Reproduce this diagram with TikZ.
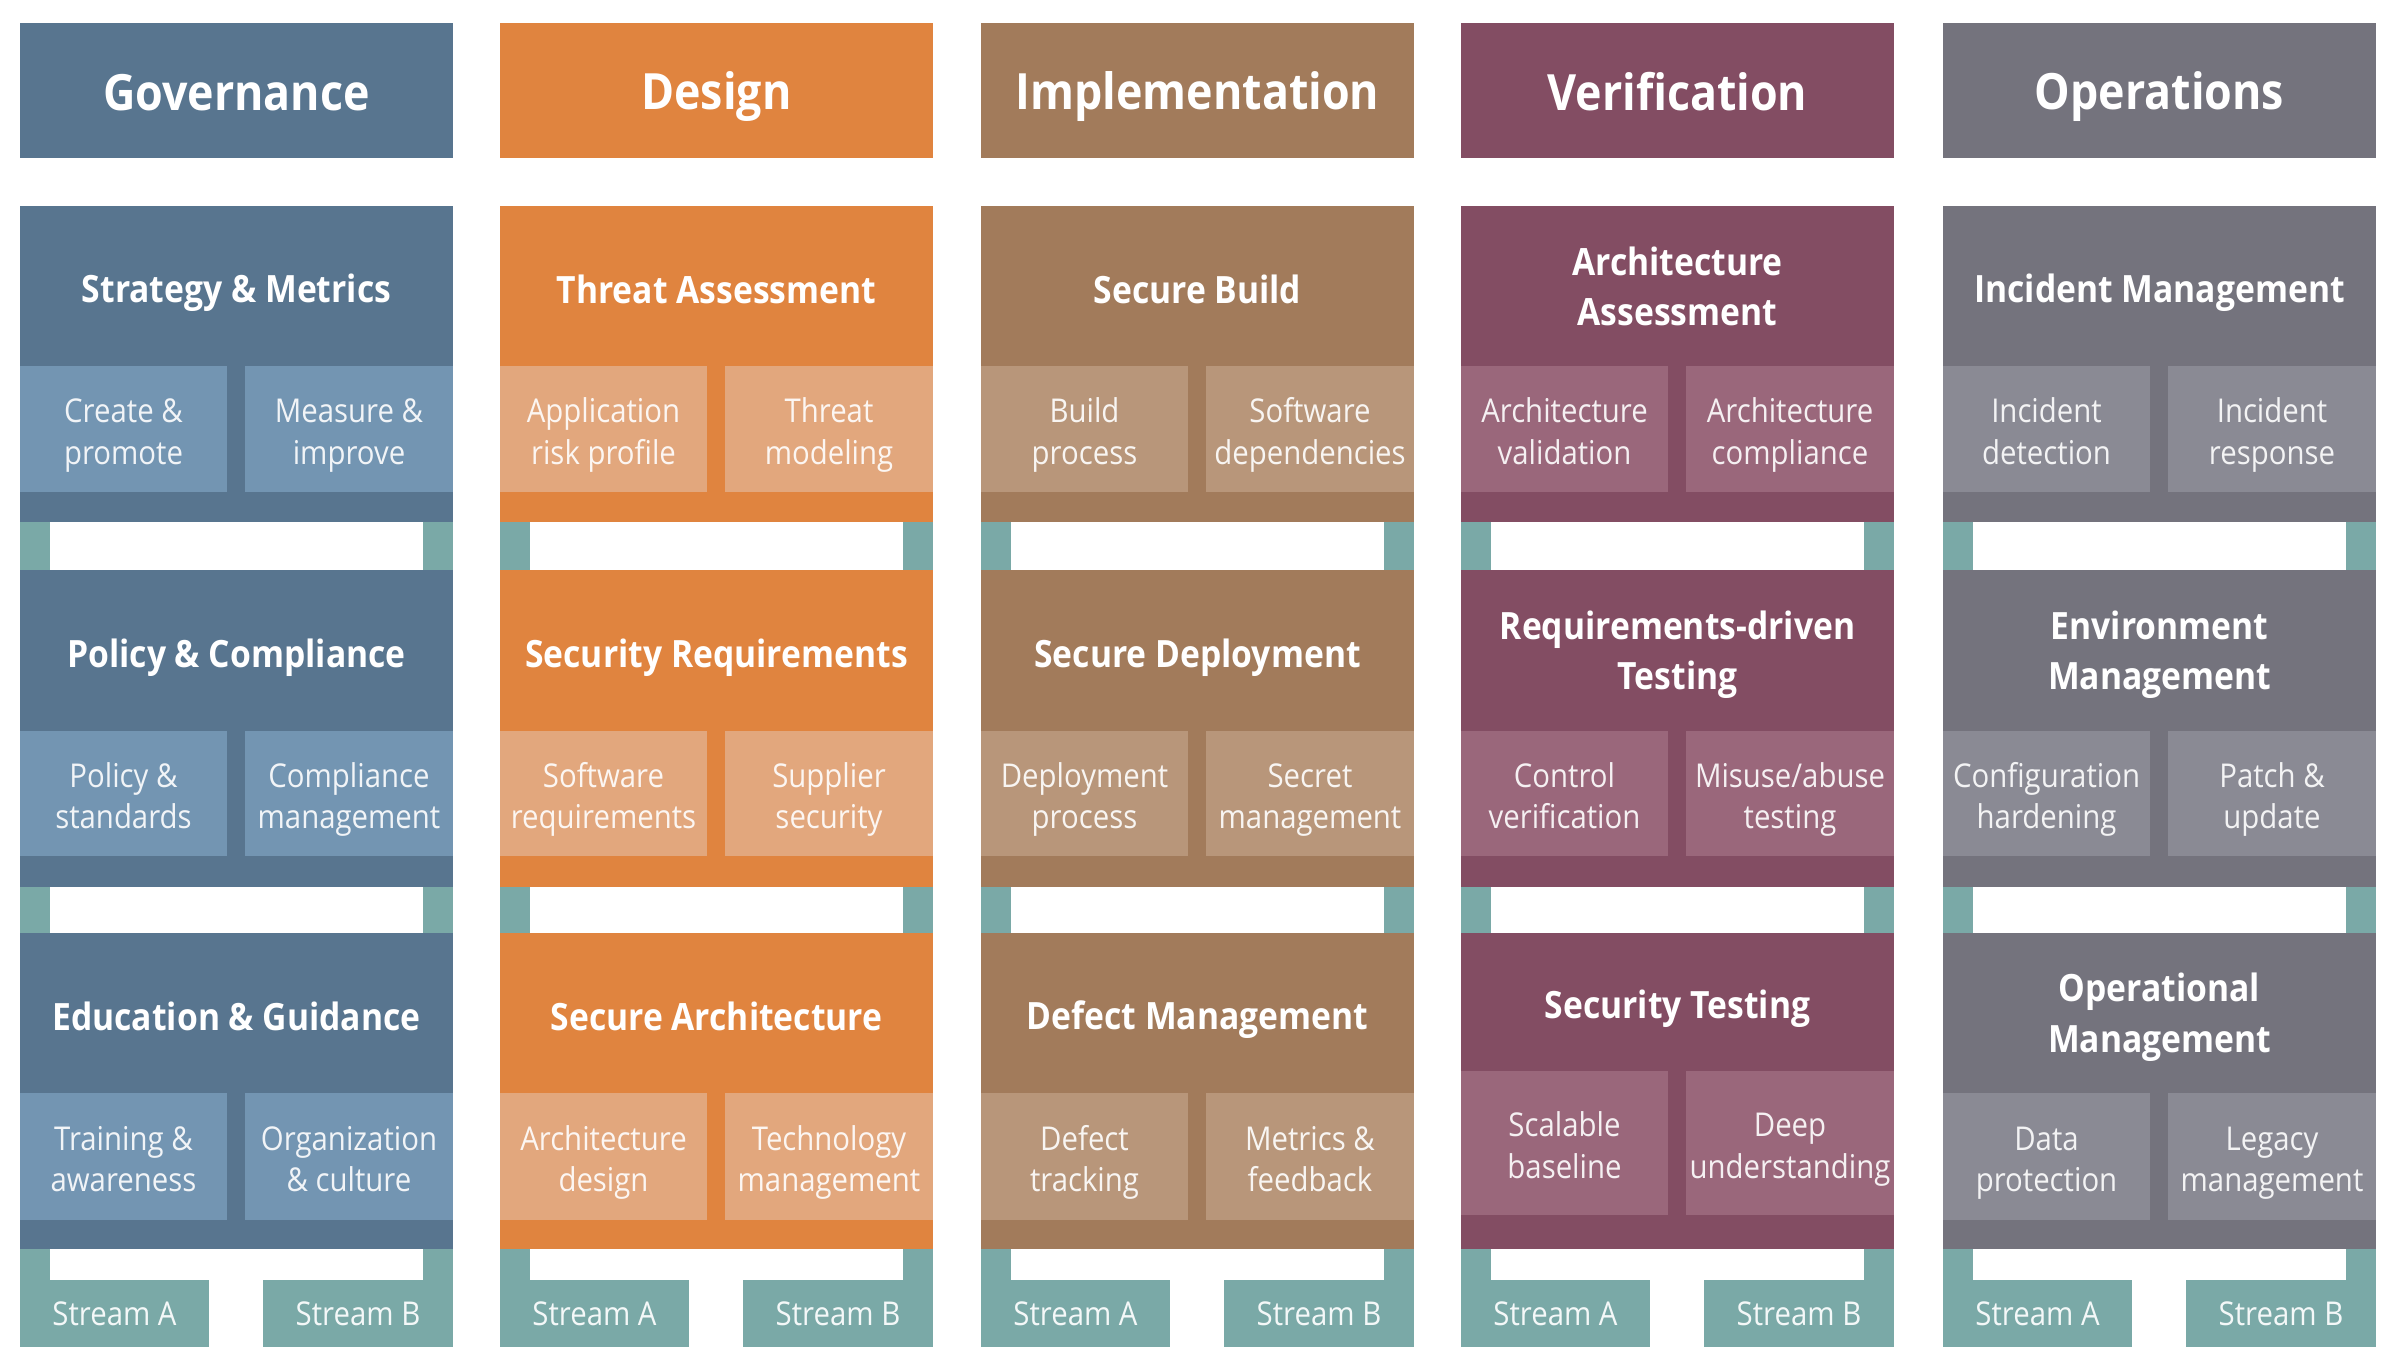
\documentclass[tikz,border=0pt]{standalone}
\usepackage{fontspec}
\setmainfont{Open Sans}[FakeStretch=0.895]
\definecolor{gA}{HTML}{58758F}\definecolor{gB}{HTML}{7395B2}
\definecolor{dA}{HTML}{E0843F}\definecolor{dB}{HTML}{E2A77D}
\definecolor{iA}{HTML}{A27B5B}\definecolor{iB}{HTML}{B8967A}
\definecolor{vA}{HTML}{834D63}\definecolor{vB}{HTML}{9A677B}
\definecolor{oA}{HTML}{74737D}\definecolor{oB}{HTML}{8A8A94}
\definecolor{tl}{HTML}{7AA9A7}
\colorlet{cA}{gA}\colorlet{cB}{gB}
\newcommand\topstrut[1]{\rule{0pt}{#1}}
\newcommand\botstrut[1]{\rule[-#1]{0pt}{#1}}
\tikzset{
  hdrbox/.style={fill=cA, inner sep=0, outer sep=0, anchor=north west,
    minimum width=108.25pt, minimum height=33.75pt, text=white,
    font=\fontsize{12.5}{15}\selectfont\bfseries,
    execute at begin node=\topstrut{12.6pt}, execute at end node=\botstrut{2.5pt}},
  blkbox/.style={fill=cA, inner sep=0, outer sep=0, anchor=north west, minimum width=108.25pt},
  ttlstyle/.style={inner sep=0, text=white, align=center,
    font=\fontsize{9.4}{12.6}\selectfont\bfseries,
    execute at begin node=\topstrut{10.5pt}, execute at end node=\botstrut{2pt}},
  subbox/.style={fill=cB, inner sep=0, outer sep=0, text=white!90!cB, align=center,
    font=\fontsize{8.2}{10.3}\selectfont,
    execute at end node=\botstrut{2.1pt}},
  strm/.style={fill=tl, inner sep=0, outer sep=0, text=white!92!tl,
    minimum height=16.75pt, font=\fontsize{8.2}{9.4}\selectfont,
    execute at begin node=\topstrut{7.85pt}, execute at end node=\botstrut{2pt}},
  pillar/.style={fill=tl}
}
% name, x, ytop, subtop, subbot, ybot, title, sub1, sub2
\newcommand\blk[9]{%
  \node[blkbox, minimum height={(#6-#3)*0.25pt}] (#1) at (#2,#3) {};
  \node[ttlstyle] (#1-t) at ({#2+216.5},{(#3+#4)/2}) {\topstrut{9.3pt}#7};
  \node[subbox, anchor=north west, minimum width=51.75pt, minimum height={(#5-#4)*0.25pt}] (#1-a) at (#2,#4) {\topstrut{9.3pt}#8};
  \node[subbox, anchor=north east, minimum width=52pt, minimum height={(#5-#4)*0.25pt}] (#1-b) at ({#2+433},#4) {\topstrut{9.3pt}#9};
}
% name, x, header
\newcommand\colbase[3]{%
  \fill[pillar] (#2,206) rectangle ({#2+30},1281);
  \fill[pillar] ({#2+403},206) rectangle ({#2+433},1281);
  \node[hdrbox] (#1-h) at (#2,23) {#3};
  \node[strm, anchor=north west, minimum width=47.25pt] (#1-sa) at (#2,1280) {Stream A};
  \node[strm, anchor=north east, minimum width=47.5pt] (#1-sb) at ({#2+433},1280) {Stream B};
}
\begin{document}
\begin{tikzpicture}[x=0.25pt,y=-0.25pt]
\fill[white] (0,0) rectangle (2397,1363);
\useasboundingbox (0,0) rectangle (2397,1363);

% Governance
\colorlet{cA}{gA}\colorlet{cB}{gB}
\colbase{g}{20}{Governance}
\blk{g1}{20}{206}{366}{492}{522}{Strategy \& Metrics}{Create \&\\promote}{Measure \&\\improve}
\blk{g2}{20}{570}{731}{856}{887}{Policy \& Compliance}{Policy \&\\standards}{Compliance\\management}
\blk{g3}{20}{933}{1093}{1220}{1249}{Education \& Guidance}{Training \&\\awareness}{Organization\\\& culture}

% Design
\colorlet{cA}{dA}\colorlet{cB}{dB}
\colbase{d}{500}{Design}
\blk{d1}{500}{206}{366}{492}{522}{Threat Assessment}{Application\\risk profile}{Threat\\modeling}
\blk{d2}{500}{570}{731}{856}{887}{Security Requirements}{Software\\requirements}{Supplier\\security}
\blk{d3}{500}{933}{1093}{1220}{1249}{Secure Architecture}{Architecture\\design}{Technology\\management}

% Implementation
\colorlet{cA}{iA}\colorlet{cB}{iB}
\colbase{i}{981}{Implementation}
\blk{i1}{981}{206}{366}{492}{522}{Secure Build}{Build\\process}{Software\\dependencies}
\blk{i2}{981}{570}{731}{856}{887}{Secure Deployment}{Deployment\\process}{Secret\\management}
\blk{i3}{981}{933}{1093}{1220}{1249}{Defect Management}{Defect\\tracking}{Metrics \&\\feedback}

% Verification
\colorlet{cA}{vA}\colorlet{cB}{vB}
\colbase{v}{1461}{Verification}
\blk{v1}{1461}{206}{366}{492}{522}{Architecture\\Assessment}{Architecture\\validation}{Architecture\\compliance}
\blk{v2}{1461}{570}{731}{856}{887}{Requirements-driven\\Testing}{Control\\verification}{Misuse/abuse\\testing}
\blk{v3}{1461}{933}{1071}{1215}{1249}{Security Testing}{Scalable\\baseline}{Deep\\understanding}

% Operations
\colorlet{cA}{oA}\colorlet{cB}{oB}
\colbase{o}{1943}{Operations}
\blk{o1}{1943}{206}{366}{492}{522}{Incident Management}{Incident\\detection}{Incident\\response}
\blk{o2}{1943}{570}{731}{856}{887}{Environment\\Management}{Configuration\\hardening}{Patch \&\\update}
\blk{o3}{1943}{933}{1093}{1220}{1249}{Operational\\Management}{Data\\protection}{Legacy\\management}
\end{tikzpicture}
\end{document}
